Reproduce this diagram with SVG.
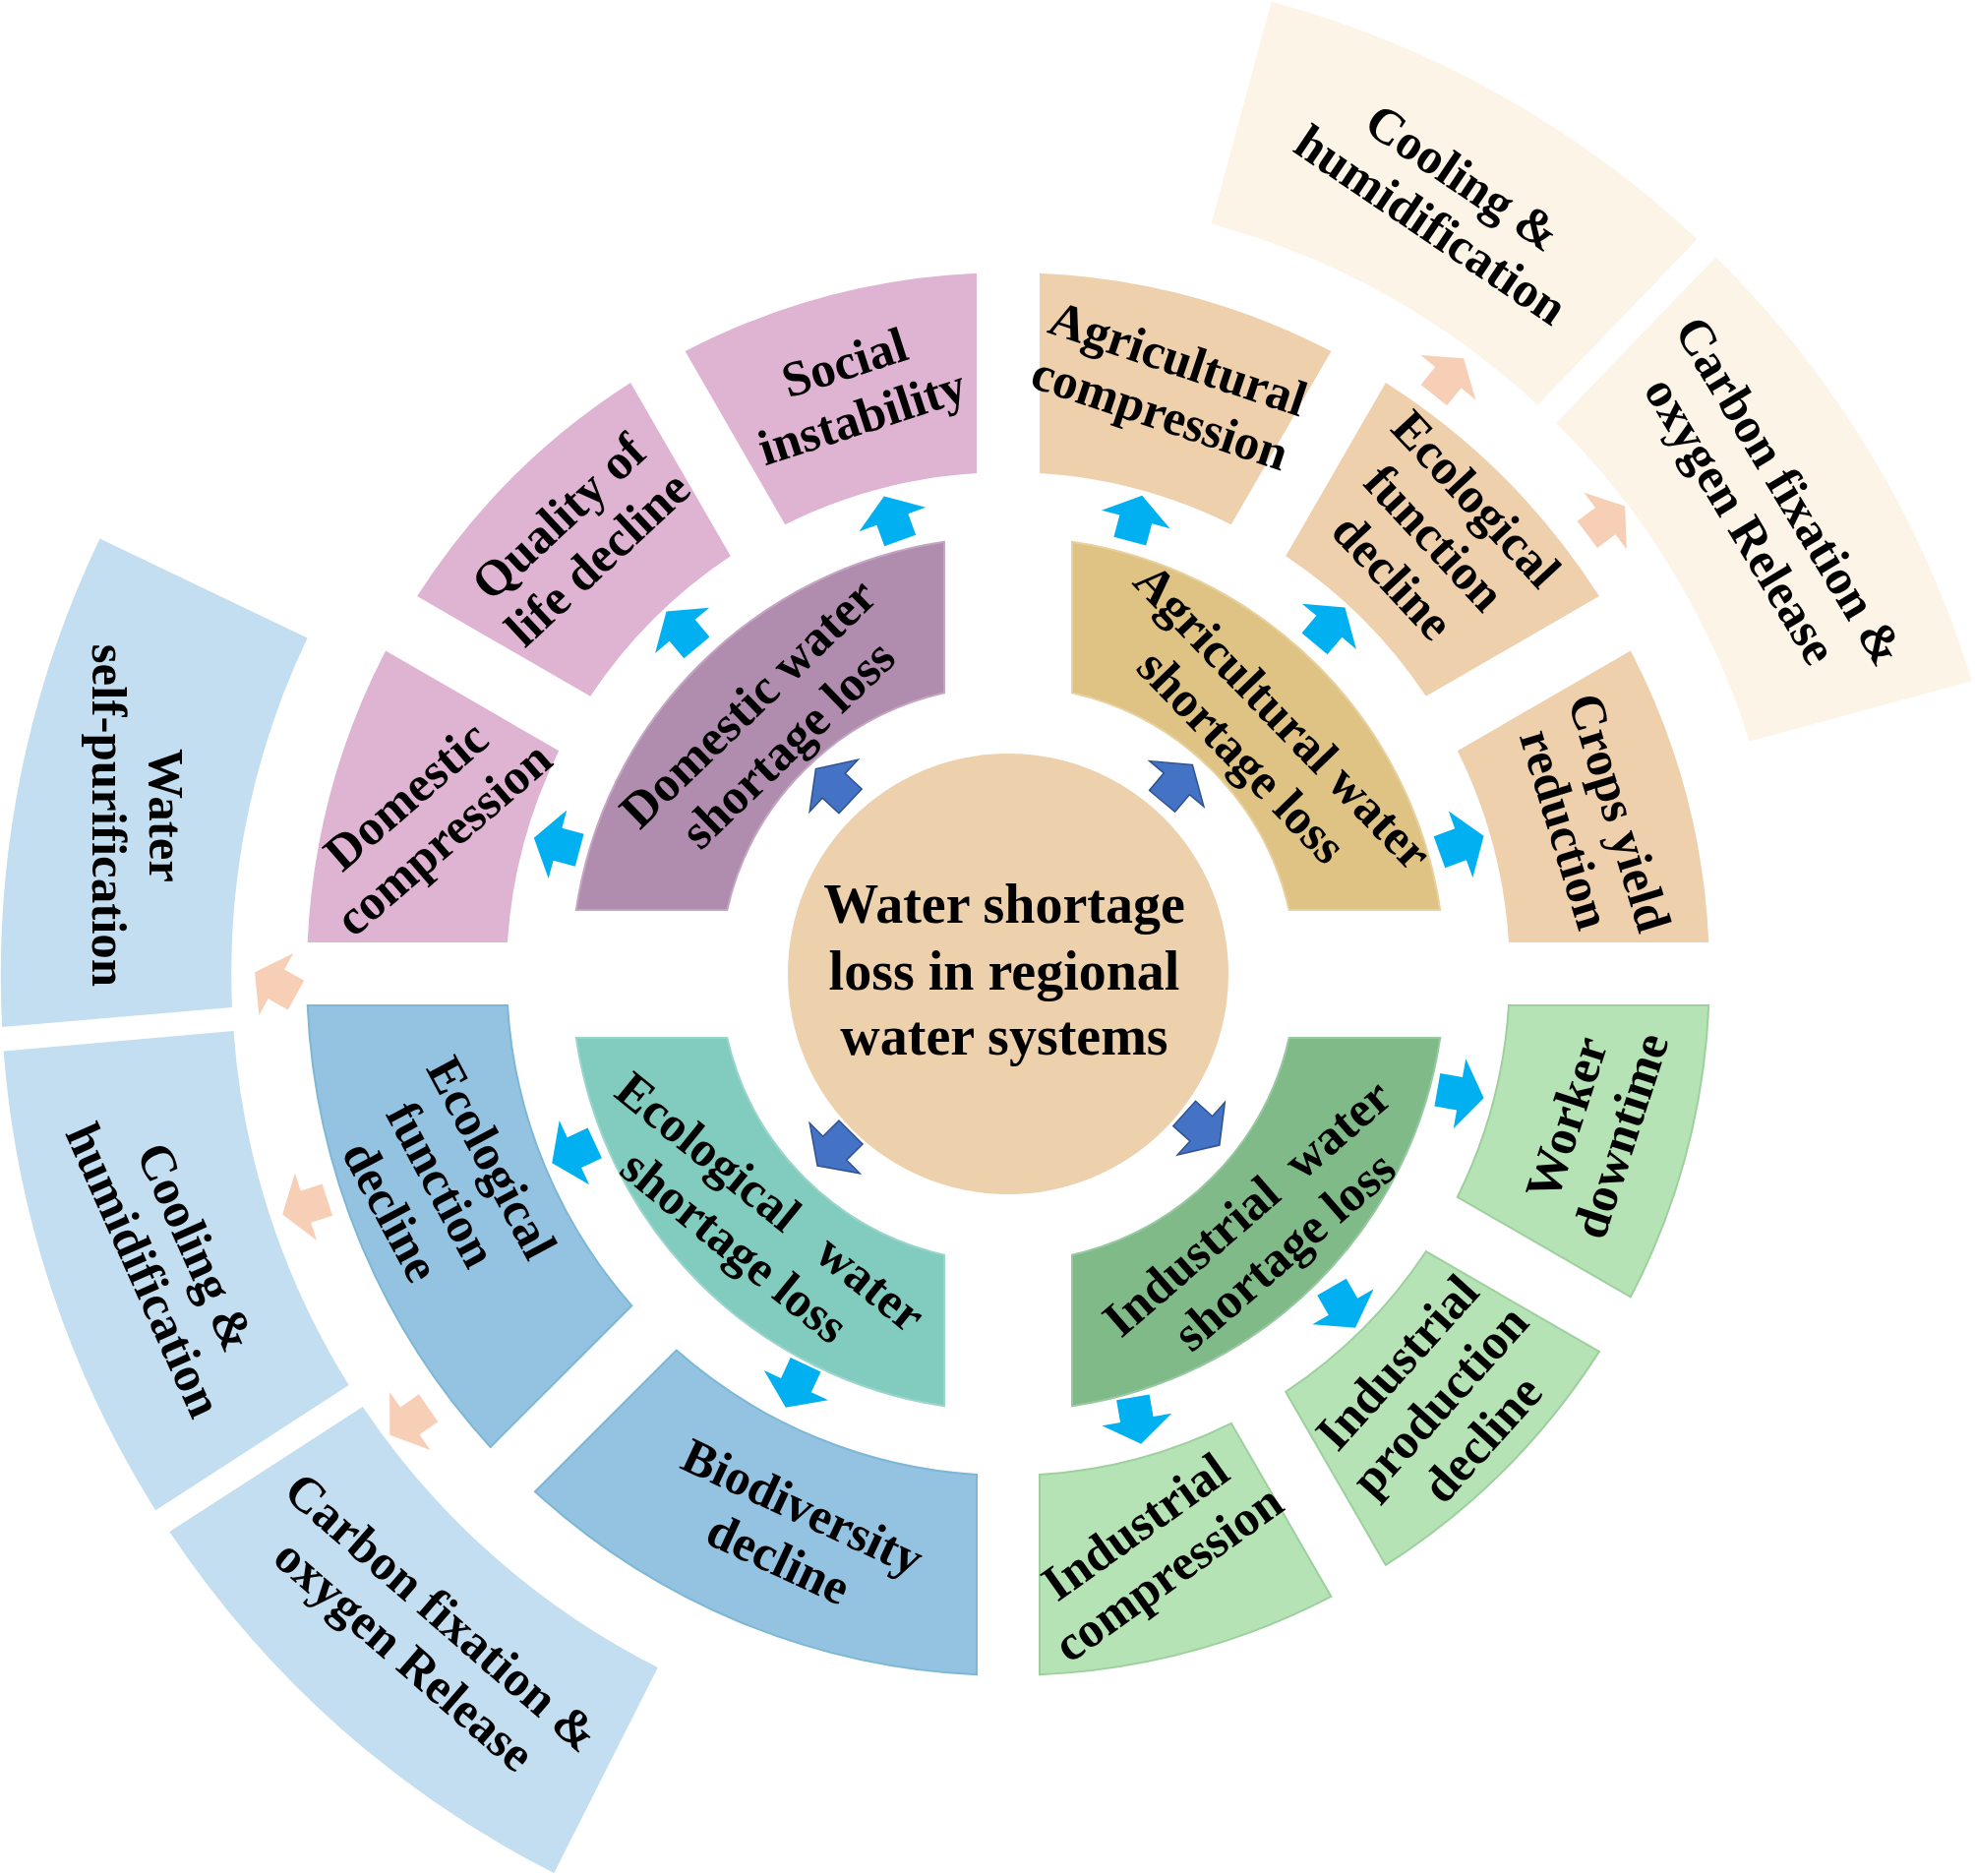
<svg xmlns="http://www.w3.org/2000/svg" xmlns:xlink="http://www.w3.org/1999/xlink" width="2008" height="1907" viewBox="0 0 2008 1907">
<defs>
<style>
.t{font-family:"Liberation Serif","Times New Roman",serif;font-weight:bold;font-size:51px;text-anchor:middle;fill:#000}
.tc{font-size:56px}
.dom{fill:#B08CAE;stroke:#C4A6C3;stroke-width:2}
.agr{fill:#DFC384;stroke:#E8D19E;stroke-width:2}
.eco{fill:#82CBBF;stroke:#9AD5CB;stroke-width:2}
.ind{fill:#7FBA88;stroke:#98C8A0;stroke-width:2}
.pink{fill:#DFB3D2}
.tan{fill:#EED0AD}
.lgreen{fill:#B5E3B5;stroke:#9ECF9E;stroke-width:2}
.blue2{fill:#94C3E1;stroke:#7DB7D6;stroke-width:2}
.cream{fill:#FDF4E8}
.lblue{fill:#C2DEF0}
.ab{fill:#4472C4;stroke:#2F528F;stroke-width:1.5}
.al{fill:#00B0F0}
.as{fill:#F7CFB6}
</style>
<path id="arr" d="M24,0 L-1,-36 L-1,-17 L-24,-17 L-24,17 L-1,17 L-1,36 Z"/>
</defs>
<rect width="2008" height="1907" fill="#fff"/>

<g id="center">
<circle cx="1025" cy="990" r="224" fill="#EDD0AC"/>
<text class="t tc" x="1021" y="938">Water shortage</text>
<text class="t tc" x="1021" y="1006">loss in regional</text>
<text class="t tc" x="1021" y="1072">water systems</text>
</g>

<g id="domestic-loss">
<path class="dom" d="M960,550.8 L960,704.3 A293,293 0 0 0 739.3,925 L585.8,925 A444,444 0 0 1 960,550.8 Z"/>
<text class="t" transform="translate(782,737) rotate(-44)"><tspan x="0" y="-14">Domestic water</tspan><tspan x="0" y="44">shortage loss</tspan></text>
</g>
<g id="agricultural-loss">
<path class="agr" d="M1090,550.8 L1090,704.3 A293,293 0 0 1 1310.7,925 L1464.2,925 A444,444 0 0 0 1090,550.8 Z"/>
<text class="t" transform="translate(1282,750) rotate(46)"><tspan x="0" y="-14">Agricultural water</tspan><tspan x="0" y="44">shortage loss</tspan></text>
</g>
<g id="ecological-loss">
<path class="eco" d="M960,1429.2 L960,1275.7 A293,293 0 0 1 739.3,1055 L585.8,1055 A444,444 0 0 0 960,1429.2 Z"/>
<text class="t" xml:space="preserve" transform="translate(764,1246) rotate(39)"><tspan x="0" y="-14">Ecological   water</tspan><tspan x="0" y="44">shortage loss</tspan></text>
</g>
<g id="industrial-loss">
<path class="ind" d="M1090,1429.2 L1090,1275.7 A293,293 0 0 0 1310.7,1055 L1464.2,1055 A444,444 0 0 1 1090,1429.2 Z"/>
<text class="t" xml:space="preserve" transform="translate(1288,1251) rotate(-41)"><tspan x="0" y="-14">Industrial  water</tspan><tspan x="0" y="44">shortage loss</tspan></text>
</g>

<g id="social-instability">
<path class="pink" d="M993,277.7 L993,481 A510,510 0 0 0 798.2,533.2 L696.6,357.1 A713,713 0 0 1 993,277.7 Z"/>
<text class="t" transform="translate(868,398) rotate(-18)"><tspan x="0" y="-14">Social</tspan><tspan x="0" y="44">instability</tspan></text>
</g>
<g id="quality-of-life">
<path class="pink" d="M641.1,389.1 L742.8,565.2 A510,510 0 0 0 600.2,707.8 L424.1,606.1 A713,713 0 0 1 641.1,389.1 Z"/>
<text class="t" transform="translate(589,548) rotate(-43)"><tspan x="0" y="-14">Quality of</tspan><tspan x="0" y="44">life decline</tspan></text>
</g>
<g id="domestic-compression">
<path class="pink" d="M392.1,661.6 L568.2,763.2 A510,510 0 0 0 516,958 L312.7,958 A713,713 0 0 1 392.1,661.6 Z"/>
<text class="t" transform="translate(433,832) rotate(-41)"><tspan x="0" y="-14">Domestic</tspan><tspan x="0" y="44">compression</tspan></text>
</g>

<g id="agricultural-compression">
<path class="tan" d="M1353.4,357.1 L1251.8,533.2 A510,510 0 0 0 1057,481 L1057,277.7 A713,713 0 0 1 1353.4,357.1 Z"/>
<text class="t" transform="translate(1188,394) rotate(18.5)"><tspan x="0" y="-14">Agricultural</tspan><tspan x="0" y="44">compression</tspan></text>
</g>
<g id="ecological-function-tr">
<path class="tan" d="M1625.9,606.1 L1449.8,707.8 A510,510 0 0 0 1307.2,565.2 L1408.9,389.1 A713,713 0 0 1 1625.9,606.1 Z"/>
<text class="t" transform="translate(1457,548) rotate(47)"><tspan x="0" y="-43">Ecological</tspan><tspan x="0" y="15">function</tspan><tspan x="0" y="73">decline</tspan></text>
</g>
<g id="crops-yield">
<path class="tan" d="M1737.3,958 L1534,958 A510,510 0 0 0 1481.8,763.2 L1657.9,661.6 A713,713 0 0 1 1737.3,958 Z"/>
<text class="t" transform="translate(1617,835) rotate(73)"><tspan x="0" y="-14">Crops yield</tspan><tspan x="0" y="44">reduction</tspan></text>
</g>

<g id="worker-downtime">
<path class="lgreen" d="M1657.9,1318.4 L1481.8,1216.8 A510,510 0 0 0 1534,1022 L1737.3,1022 A713,713 0 0 1 1657.9,1318.4 Z"/>
<text class="t" transform="translate(1622,1146) rotate(-72)"><tspan x="0" y="-14">Worker</tspan><tspan x="0" y="44">downtime</tspan></text>
</g>
<g id="industrial-production">
<path class="lgreen" d="M1408.9,1590.9 L1307.2,1414.8 A510,510 0 0 0 1449.8,1272.2 L1625.9,1373.9 A713,713 0 0 1 1408.9,1590.9 Z"/>
<text class="t" transform="translate(1465,1425) rotate(-48)"><tspan x="0" y="-43">Industrial</tspan><tspan x="0" y="15">production</tspan><tspan x="0" y="73">decline</tspan></text>
</g>
<g id="industrial-compression">
<path class="lgreen" d="M1057,1702.3 L1057,1499 A510,510 0 0 0 1251.8,1446.8 L1353.4,1622.9 A713,713 0 0 1 1057,1702.3 Z"/>
<text class="t" transform="translate(1172,1577) rotate(-35.5)"><tspan x="0" y="-14">Industrial</tspan><tspan x="0" y="44">compression</tspan></text>
</g>

<g id="ecological-function-l">
<path class="blue2" d="M312.7,1022 L516,1022 A510,510 0 0 0 642.4,1327.3 L498.7,1471 A713,713 0 0 1 312.7,1022 Z"/>
<text class="t" transform="translate(447,1205) rotate(62)"><tspan x="0" y="-43">Ecological</tspan><tspan x="0" y="15">function</tspan><tspan x="0" y="73">decline</tspan></text>
</g>
<g id="biodiversity">
<path class="blue2" d="M544,1516.3 L687.7,1372.6 A510,510 0 0 0 993,1499 L993,1702.3 A713,713 0 0 1 544,1516.3 Z"/>
<text class="t" transform="translate(803,1560) rotate(25)"><tspan x="0" y="-14">Biodiversity</tspan><tspan x="0" y="44">decline</tspan></text>
</g>

<g id="cooling-tr">
<path class="cream" d="M1292.6,1.6 L1231.5,227.5 A790,790 0 0 1 1563.3,411.8 L1725.6,243.2 A1024,1024 0 0 0 1292.6,1.6 Z"/>
<text class="t" transform="translate(1470,206) rotate(34)"><tspan x="0" y="-14">Cooling &amp;</tspan><tspan x="0" y="44">humidification</tspan></text>
</g>
<g id="carbon-tr">
<path class="cream" d="M1744.4,261.2 L1582.1,429.9 A790,790 0 0 1 1778.8,753.8 L2004.8,692.3 A1024,1024 0 0 0 1744.4,261.2 Z"/>
<text class="t" transform="translate(1793,515) rotate(59)"><tspan x="0" y="-14">Carbon fixation &amp;</tspan><tspan x="0" y="44">oxygen Release</tspan></text>
</g>
<g id="water-purification">
<path class="lblue" d="M101.5,547.5 L312.6,648.6 A790,790 0 0 0 236,1024 L2.2,1044 A1024,1024 0 0 1 101.5,547.5 Z"/>
<text class="t" transform="translate(138,829) rotate(90)"><tspan x="0" y="-14">Water</tspan><tspan x="0" y="44">self-purification</tspan></text>
</g>
<g id="cooling-l">
<path class="lblue" d="M3.6,1068.5 L237.5,1048 A790,790 0 0 0 354.7,1408.1 L158.2,1535.3 A1024,1024 0 0 1 3.6,1068.5 Z"/>
<text class="t" transform="translate(171,1280) rotate(66)"><tspan x="0" y="-14">Cooling &amp;</tspan><tspan x="0" y="44">humidification</tspan></text>
</g>
<g id="carbon-l">
<path class="lblue" d="M172.3,1557.1 L368.8,1430 A790,790 0 0 0 668.8,1695.1 L563.3,1904 A1024,1024 0 0 1 172.3,1557.1 Z"/>
<text class="t" transform="translate(429,1662) rotate(41)"><tspan x="0" y="-14">Carbon fixation &amp;</tspan><tspan x="0" y="44">oxygen Release</tspan></text>
</g>

<g id="connectors">
<use xlink:href="#arr" class="ab" transform="translate(847,798) rotate(-137)"/>
<use xlink:href="#arr" class="ab" transform="translate(1197,796) rotate(-50)"/>
<use xlink:href="#arr" class="ab" transform="translate(848,1168) rotate(-225)"/>
<use xlink:href="#arr" class="ab" transform="translate(1222,1148) rotate(42)"/>

<use xlink:href="#arr" class="al" transform="translate(566,858) rotate(-165)"/>
<use xlink:href="#arr" class="al" transform="translate(693,640) rotate(-130)"/>
<use xlink:href="#arr" class="al" transform="translate(907,527) rotate(-110)"/>
<use xlink:href="#arr" class="al" transform="translate(1155,527) rotate(-75)"/>
<use xlink:href="#arr" class="al" transform="translate(1352,636) rotate(-50)"/>
<use xlink:href="#arr" class="al" transform="translate(1486,858) rotate(-20)"/>
<use xlink:href="#arr" class="al" transform="translate(1485,1112) rotate(10)"/>
<use xlink:href="#arr" class="al" transform="translate(1366,1329) rotate(60)"/>
<use xlink:href="#arr" class="al" transform="translate(1156,1444) rotate(80)"/>
<use xlink:href="#arr" class="al" transform="translate(583,1172) rotate(-205)"/>
<use xlink:href="#arr" class="al" transform="translate(809,1409) rotate(-245)"/>

<use xlink:href="#arr" class="as" transform="translate(1473,383) rotate(-51)"/>
<use xlink:href="#arr" class="as" transform="translate(1633,529) rotate(-37)"/>
<use xlink:href="#arr" class="as" transform="translate(280,1000) rotate(-151)"/>
<use xlink:href="#arr" class="as" transform="translate(310,1227) rotate(-198)"/>
<use xlink:href="#arr" class="as" transform="translate(416,1445) rotate(-215)"/>
</g>
</svg>
